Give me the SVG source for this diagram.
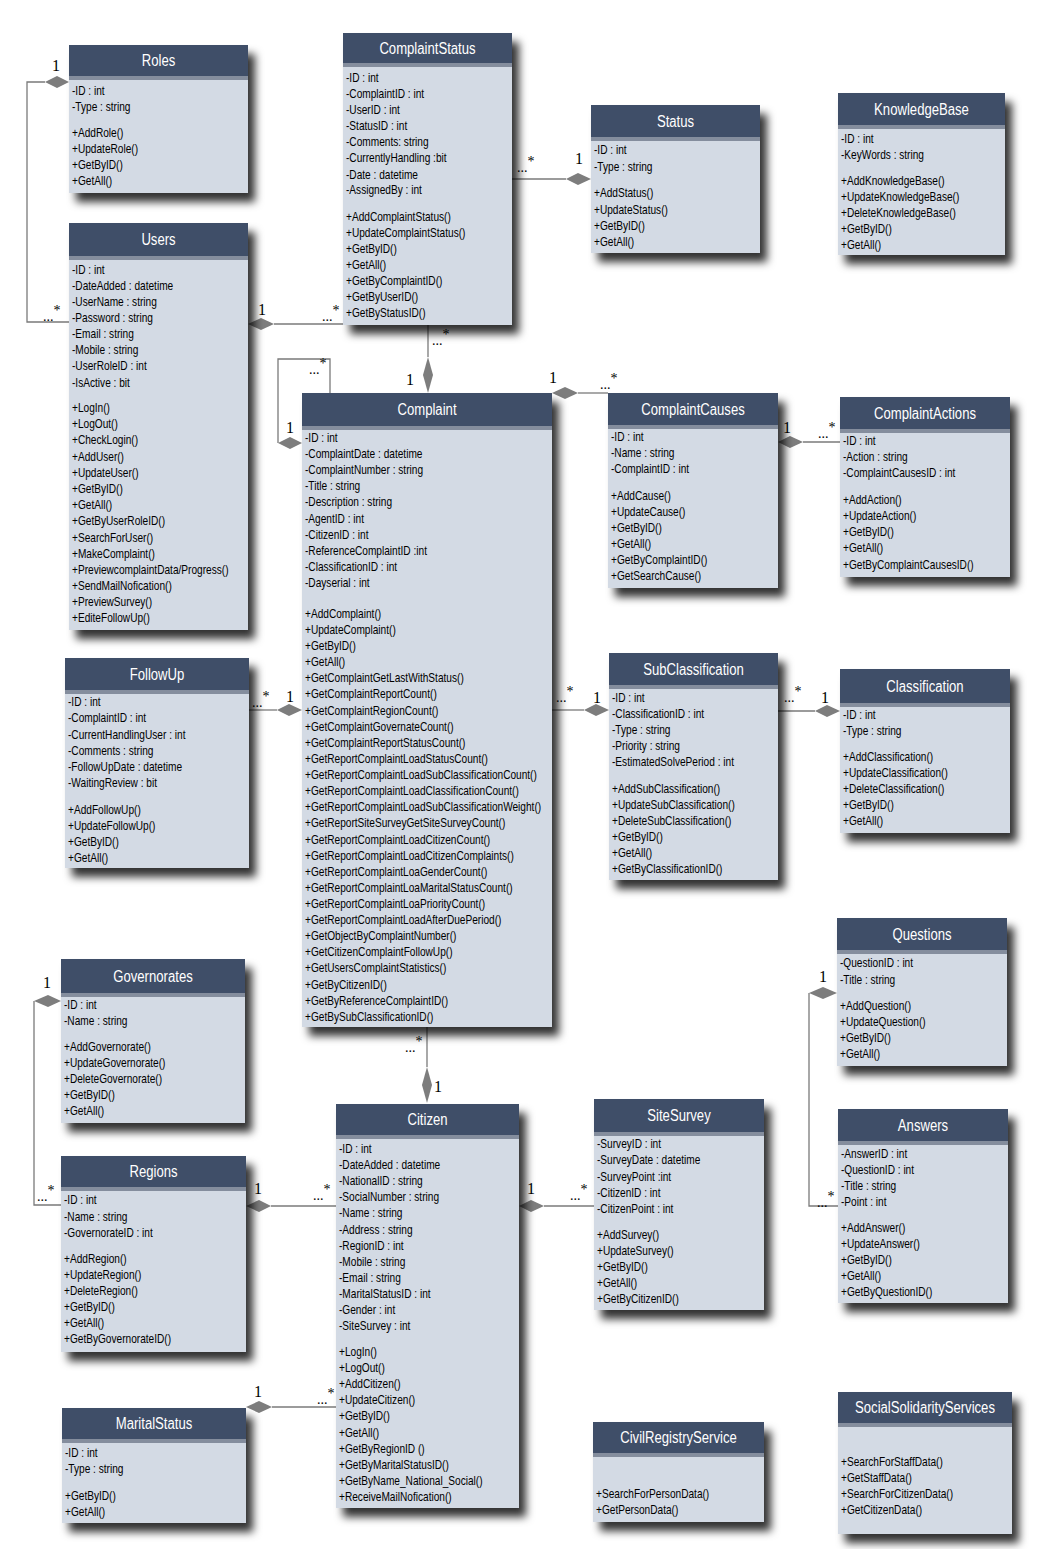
<svg xmlns="http://www.w3.org/2000/svg" width="1037" height="1549" viewBox="0 0 1037 1549">
<defs>
<filter id="sh" x="-10%" y="-10%" width="135%" height="135%">
<feDropShadow dx="7" dy="9" stdDeviation="4" flood-color="#000" flood-opacity="0.8"/>
</filter>
<style>
.bd{fill:#d3dae4}
.hdr{fill:#3f4e68}
.st{fill:#848d9d}
.t{font-family:"Liberation Sans",Arial,sans-serif;font-size:12.5px;fill:#000}
.ti{font-family:"Liberation Sans",Arial,sans-serif;font-size:16px;fill:#fff;text-anchor:middle}
.ln{stroke:#7a7a7a;stroke-width:1.3;fill:none}
.dm{fill:#7d7d7d}
.lb{font-family:"Liberation Serif","Times New Roman",serif;font-size:16px;fill:#000}
.ml{font-family:"Liberation Serif","Times New Roman",serif;font-size:14px;fill:#000}
</style>
</defs>
<rect width="1037" height="1549" fill="#fff"/>

<g id="connectors">
<!-- Roles - Users -->
<polyline class="ln" points="45,82 27,82 27,322 69,322"/>
<polygon class="dm" points="69,82 57,76 45,82 57,88"/>
<text class="lb" x="52" y="71">1</text>
<text class="ml" x="43" y="321">...<tspan dy="-6">*</tspan></text>
<!-- Users - ComplaintStatus -->
<line class="ln" x1="274" y1="324" x2="343" y2="324"/>
<polygon class="dm" points="248,324 261,318 274,324 261,330"/>
<text class="lb" x="258" y="315">1</text>
<text class="ml" x="322" y="321">...<tspan dy="-6">*</tspan></text>
<!-- ComplaintStatus - Status -->
<line class="ln" x1="512" y1="179" x2="566" y2="179"/>
<polygon class="dm" points="566,179 578,173 591,179 578,185"/>
<text class="ml" x="517" y="172">...<tspan dy="-6">*</tspan></text>
<text class="lb" x="575" y="164">1</text>
<!-- ComplaintStatus - Complaint -->
<line class="ln" x1="428" y1="325" x2="428" y2="357"/>
<polygon class="dm" points="428,357 433,375 428,393 423,375"/>
<text class="ml" x="432" y="345">...<tspan dy="-6">*</tspan></text>
<text class="lb" x="406" y="385">1</text>
<!-- Complaint self -->
<polyline class="ln" points="330,393 330,359 278,359 278,443"/>
<polygon class="dm" points="278,443 290,437 302,443 290,449"/>
<text class="ml" x="309" y="374">...<tspan dy="-6">*</tspan></text>
<text class="lb" x="286" y="433">1</text>
<!-- Complaint - ComplaintCauses -->
<line class="ln" x1="578" y1="393" x2="608" y2="393"/>
<polygon class="dm" points="552,393 565,387 578,393 565,399"/>
<text class="lb" x="549" y="383">1</text>
<text class="ml" x="600" y="389">...<tspan dy="-6">*</tspan></text>
<!-- ComplaintCauses - ComplaintActions -->
<line class="ln" x1="803" y1="442" x2="840" y2="442"/>
<polygon class="dm" points="778,442 790,436 803,442 790,448"/>
<text class="lb" x="783" y="433">1</text>
<text class="ml" x="818" y="438">...<tspan dy="-6">*</tspan></text>
<!-- FollowUp - Complaint -->
<line class="ln" x1="249" y1="710" x2="277" y2="710"/>
<polygon class="dm" points="277,710 289,704 302,710 289,716"/>
<text class="ml" x="252" y="707">...<tspan dy="-6">*</tspan></text>
<text class="lb" x="286" y="702">1</text>
<!-- Complaint - SubClassification -->
<line class="ln" x1="552" y1="710" x2="584" y2="710"/>
<polygon class="dm" points="584,710 596,704 609,710 596,716"/>
<text class="ml" x="556" y="702">...<tspan dy="-6">*</tspan></text>
<text class="lb" x="593" y="703">1</text>
<!-- SubClassification - Classification -->
<line class="ln" x1="778" y1="711" x2="815" y2="711"/>
<polygon class="dm" points="815,711 827,705 840,711 827,717"/>
<text class="ml" x="784" y="702">...<tspan dy="-6">*</tspan></text>
<text class="lb" x="821" y="703">1</text>
<!-- Complaint - Citizen -->
<line class="ln" x1="427" y1="1027" x2="427" y2="1067"/>
<polygon class="dm" points="427,1067 432,1085 427,1103 422,1085"/>
<text class="ml" x="405" y="1052">...<tspan dy="-6">*</tspan></text>
<text class="lb" x="434" y="1092">1</text>
<!-- Governorates - Regions -->
<polyline class="ln" points="34,1001 34,1205 61,1205"/>
<polygon class="dm" points="61,1001 48,995 34,1001 48,1007"/>
<text class="lb" x="43" y="988">1</text>
<text class="ml" x="37" y="1201">...<tspan dy="-6">*</tspan></text>
<!-- Regions - Citizen -->
<line class="ln" x1="271" y1="1206" x2="336" y2="1206"/>
<polygon class="dm" points="246,1206 259,1200 271,1206 259,1212"/>
<text class="lb" x="254" y="1194">1</text>
<text class="ml" x="313" y="1200">...<tspan dy="-6">*</tspan></text>
<!-- Citizen - SiteSurvey -->
<line class="ln" x1="544" y1="1206" x2="594" y2="1206"/>
<polygon class="dm" points="519,1206 531,1200 544,1206 531,1212"/>
<text class="lb" x="527" y="1194">1</text>
<text class="ml" x="570" y="1200">...<tspan dy="-6">*</tspan></text>
<!-- MaritalStatus - Citizen -->
<line class="ln" x1="272" y1="1407" x2="336" y2="1407"/>
<polygon class="dm" points="246,1407 259,1401 272,1407 259,1413"/>
<text class="lb" x="254" y="1397">1</text>
<text class="ml" x="317" y="1404">...<tspan dy="-6">*</tspan></text>
<!-- Questions - Answers -->
<polyline class="ln" points="809,993 809,1206 838,1206"/>
<polygon class="dm" points="837,993 823,987 809,993 823,999"/>
<text class="lb" x="819" y="982">1</text>
<text class="ml" x="817" y="1207">...<tspan dy="-6">*</tspan></text>
</g>

<g id="Roles">
<rect class="bd" x="69" y="45" width="179" height="148" filter="url(#sh)"/>
<rect class="hdr" x="69" y="45" width="179" height="31"/>
<rect class="st" x="69" y="76" width="179" height="4"/>
<g transform="translate(158.5 66) scale(0.82 1)"><text class="ti" x="0" y="0">Roles</text></g>
<g transform="translate(72 0) scale(0.81 1)"><text class="t">
<tspan x="0" y="95">-ID : int</tspan><tspan x="0" y="111">-Type : string</tspan>
<tspan x="0" y="137">+AddRole()</tspan><tspan x="0" y="153">+UpdateRole()</tspan><tspan x="0" y="169">+GetByID()</tspan><tspan x="0" y="185">+GetAll()</tspan>
</text></g>
</g>

<g id="Users">
<rect class="bd" x="69" y="223" width="179" height="407" filter="url(#sh)"/>
<rect class="hdr" x="69" y="223" width="179" height="33"/>
<rect class="st" x="69" y="256" width="179" height="4"/>
<g transform="translate(158.5 245) scale(0.82 1)"><text class="ti" x="0" y="0">Users</text></g>
<g transform="translate(72 0) scale(0.81 1)"><text class="t">
<tspan x="0" y="274">-ID : int</tspan><tspan x="0" y="290">-DateAdded : datetime</tspan><tspan x="0" y="306">-UserName : string</tspan><tspan x="0" y="322">-Password : string</tspan><tspan x="0" y="338">-Email : string</tspan><tspan x="0" y="354">-Mobile : string</tspan><tspan x="0" y="370">-UserRoleID : int</tspan><tspan x="0" y="387">-IsActive : bit</tspan>
<tspan x="0" y="412">+LogIn()</tspan><tspan x="0" y="428">+LogOut()</tspan><tspan x="0" y="444">+CheckLogin()</tspan><tspan x="0" y="461">+AddUser()</tspan><tspan x="0" y="477">+UpdateUser()</tspan><tspan x="0" y="493">+GetByID()</tspan><tspan x="0" y="509">+GetAll()</tspan><tspan x="0" y="525">+GetByUserRoleID()</tspan><tspan x="0" y="542">+SearchForUser()</tspan><tspan x="0" y="558">+MakeComplaint()</tspan><tspan x="0" y="574">+PreviewcomplaintData/Progress()</tspan><tspan x="0" y="590">+SendMailNofication()</tspan><tspan x="0" y="606">+PreviewSurvey()</tspan><tspan x="0" y="622">+EditeFollowUp()</tspan>
</text></g>
</g>

<g id="ComplaintStatus">
<rect class="bd" x="343" y="33" width="169" height="292" filter="url(#sh)"/>
<rect class="hdr" x="343" y="33" width="169" height="30"/>
<rect class="st" x="343" y="63" width="169" height="4"/>
<g transform="translate(427.5 54) scale(0.82 1)"><text class="ti" x="0" y="0">ComplaintStatus</text></g>
<g transform="translate(346 0) scale(0.81 1)"><text class="t">
<tspan x="0" y="82">-ID : int</tspan><tspan x="0" y="98">-ComplaintID : int</tspan><tspan x="0" y="114">-UserID : int</tspan><tspan x="0" y="130">-StatusID : int</tspan><tspan x="0" y="146">-Comments: string</tspan><tspan x="0" y="162">-CurrentlyHandling :bit</tspan><tspan x="0" y="179">-Date : datetime</tspan><tspan x="0" y="194">-AssignedBy : int</tspan>
<tspan x="0" y="221">+AddComplaintStatus()</tspan><tspan x="0" y="237">+UpdateComplaintStatus()</tspan><tspan x="0" y="253">+GetByID()</tspan><tspan x="0" y="269">+GetAll()</tspan><tspan x="0" y="285">+GetByComplaintID()</tspan><tspan x="0" y="301">+GetByUserID()</tspan><tspan x="0" y="317">+GetByStatusID()</tspan>
</text></g>
</g>

<g id="Status">
<rect class="bd" x="591" y="105" width="169" height="148" filter="url(#sh)"/>
<rect class="hdr" x="591" y="105" width="169" height="32"/>
<rect class="st" x="591" y="137" width="169" height="4"/>
<g transform="translate(675.5 127) scale(0.82 1)"><text class="ti" x="0" y="0">Status</text></g>
<g transform="translate(594 0) scale(0.81 1)"><text class="t">
<tspan x="0" y="154">-ID : int</tspan><tspan x="0" y="171">-Type : string</tspan>
<tspan x="0" y="197">+AddStatus()</tspan><tspan x="0" y="214">+UpdateStatus()</tspan><tspan x="0" y="230">+GetByID()</tspan><tspan x="0" y="246">+GetAll()</tspan>
</text></g>
</g>

<g id="KnowledgeBase">
<rect class="bd" x="838" y="93" width="167" height="162" filter="url(#sh)"/>
<rect class="hdr" x="838" y="93" width="167" height="32"/>
<rect class="st" x="838" y="125" width="167" height="4"/>
<g transform="translate(921.5 115) scale(0.82 1)"><text class="ti" x="0" y="0">KnowledgeBase</text></g>
<g transform="translate(841 0) scale(0.81 1)"><text class="t">
<tspan x="0" y="143">-ID : int</tspan><tspan x="0" y="159">-KeyWords : string</tspan>
<tspan x="0" y="185">+AddKnowledgeBase()</tspan><tspan x="0" y="201">+UpdateKnowledgeBase()</tspan><tspan x="0" y="217">+DeleteKnowledgeBase()</tspan><tspan x="0" y="233">+GetByID()</tspan><tspan x="0" y="249">+GetAll()</tspan>
</text></g>
</g>

<g id="Complaint">
<rect class="bd" x="302" y="393" width="250" height="634" filter="url(#sh)"/>
<rect class="hdr" x="302" y="393" width="250" height="33"/>
<rect class="st" x="302" y="426" width="250" height="4"/>
<g transform="translate(427 415) scale(0.82 1)"><text class="ti" x="0" y="0">Complaint</text></g>
<g transform="translate(305 0) scale(0.81 1)"><text class="t">
<tspan x="0" y="442">-ID : int</tspan><tspan x="0" y="458">-ComplaintDate : datetime</tspan><tspan x="0" y="474">-ComplaintNumber : string</tspan><tspan x="0" y="490">-Title : string</tspan><tspan x="0" y="506">-Description : string</tspan><tspan x="0" y="523">-AgentID : int</tspan><tspan x="0" y="539">-CitizenID : int</tspan><tspan x="0" y="555">-ReferenceComplaintID :int</tspan><tspan x="0" y="571">-ClassificationID : int</tspan><tspan x="0" y="587">-Dayserial : int</tspan>
<tspan x="0" y="618">+AddComplaint()</tspan><tspan x="0" y="634">+UpdateComplaint()</tspan><tspan x="0" y="650">+GetByID()</tspan><tspan x="0" y="666">+GetAll()</tspan><tspan x="0" y="682">+GetComplaintGetLastWithStatus()</tspan><tspan x="0" y="698">+GetComplaintReportCount()</tspan><tspan x="0" y="715">+GetComplaintRegionCount()</tspan><tspan x="0" y="731">+GetComplaintGovernateCount()</tspan><tspan x="0" y="747">+GetComplaintReportStatusCount()</tspan><tspan x="0" y="763">+GetReportComplaintLoadStatusCount()</tspan><tspan x="0" y="779">+GetReportComplaintLoadSubClassificationCount()</tspan><tspan x="0" y="795">+GetReportComplaintLoadClassificationCount()</tspan><tspan x="0" y="811">+GetReportComplaintLoadSubClassificationWeight()</tspan><tspan x="0" y="827">+GetReportSiteSurveyGetSiteSurveyCount()</tspan><tspan x="0" y="844">+GetReportComplaintLoadCitizenCount()</tspan><tspan x="0" y="860">+GetReportComplaintLoadCitizenComplaints()</tspan><tspan x="0" y="876">+GetReportComplaintLoaGenderCount()</tspan><tspan x="0" y="892">+GetReportComplaintLoaMaritalStatusCount()</tspan><tspan x="0" y="908">+GetReportComplaintLoaPriorityCount()</tspan><tspan x="0" y="924">+GetReportComplaintLoadAfterDuePeriod()</tspan><tspan x="0" y="940">+GetObjectByComplaintNumber()</tspan><tspan x="0" y="956">+GetCitizenComplaintFollowUp()</tspan><tspan x="0" y="972">+GetUsersComplaintStatistics()</tspan><tspan x="0" y="989">+GetByCitizenID()</tspan><tspan x="0" y="1005">+GetByReferenceComplaintID()</tspan><tspan x="0" y="1021">+GetBySubClassificationID()</tspan>
</text></g>
</g>

<g id="ComplaintCauses">
<rect class="bd" x="608" y="393" width="170" height="195" filter="url(#sh)"/>
<rect class="hdr" x="608" y="393" width="170" height="32"/>
<rect class="st" x="608" y="425" width="170" height="4"/>
<g transform="translate(693 415) scale(0.82 1)"><text class="ti" x="0" y="0">ComplaintCauses</text></g>
<g transform="translate(611 0) scale(0.81 1)"><text class="t">
<tspan x="0" y="441">-ID : int</tspan><tspan x="0" y="457">-Name : string</tspan><tspan x="0" y="473">-ComplaintID : int</tspan>
<tspan x="0" y="500">+AddCause()</tspan><tspan x="0" y="516">+UpdateCause()</tspan><tspan x="0" y="532">+GetByID()</tspan><tspan x="0" y="548">+GetAll()</tspan><tspan x="0" y="564">+GetByComplaintID()</tspan><tspan x="0" y="580">+GetSearchCause()</tspan>
</text></g>
</g>

<g id="ComplaintActions">
<rect class="bd" x="840" y="397" width="170" height="180" filter="url(#sh)"/>
<rect class="hdr" x="840" y="397" width="170" height="32"/>
<rect class="st" x="840" y="429" width="170" height="4"/>
<g transform="translate(925 419) scale(0.82 1)"><text class="ti" x="0" y="0">ComplaintActions</text></g>
<g transform="translate(843 0) scale(0.81 1)"><text class="t">
<tspan x="0" y="445">-ID : int</tspan><tspan x="0" y="461">-Action : string</tspan><tspan x="0" y="477">-ComplaintCausesID : int</tspan>
<tspan x="0" y="504">+AddAction()</tspan><tspan x="0" y="520">+UpdateAction()</tspan><tspan x="0" y="536">+GetByID()</tspan><tspan x="0" y="552">+GetAll()</tspan><tspan x="0" y="569">+GetByComplaintCausesID()</tspan>
</text></g>
</g>

<g id="FollowUp">
<rect class="bd" x="65" y="658" width="184" height="210" filter="url(#sh)"/>
<rect class="hdr" x="65" y="658" width="184" height="32"/>
<rect class="st" x="65" y="690" width="184" height="4"/>
<g transform="translate(157 680) scale(0.82 1)"><text class="ti" x="0" y="0">FollowUp</text></g>
<g transform="translate(68 0) scale(0.81 1)"><text class="t">
<tspan x="0" y="706">-ID : int</tspan><tspan x="0" y="722">-ComplaintID : int</tspan><tspan x="0" y="739">-CurrentHandlingUser : int</tspan><tspan x="0" y="755">-Comments : string</tspan><tspan x="0" y="771">-FollowUpDate : datetime</tspan><tspan x="0" y="787">-WaitingReview : bit</tspan>
<tspan x="0" y="814">+AddFollowUp()</tspan><tspan x="0" y="830">+UpdateFollowUp()</tspan><tspan x="0" y="846">+GetByID()</tspan><tspan x="0" y="862">+GetAll()</tspan>
</text></g>
</g>

<g id="SubClassification">
<rect class="bd" x="609" y="653" width="169" height="227" filter="url(#sh)"/>
<rect class="hdr" x="609" y="653" width="169" height="32"/>
<rect class="st" x="609" y="685" width="169" height="4"/>
<g transform="translate(693.5 675) scale(0.82 1)"><text class="ti" x="0" y="0">SubClassification</text></g>
<g transform="translate(612 0) scale(0.81 1)"><text class="t">
<tspan x="0" y="702">-ID : int</tspan><tspan x="0" y="718">-ClassificationID : int</tspan><tspan x="0" y="734">-Type : string</tspan><tspan x="0" y="750">-Priority : string</tspan><tspan x="0" y="766">-EstimatedSolvePeriod : int</tspan>
<tspan x="0" y="793">+AddSubClassification()</tspan><tspan x="0" y="809">+UpdateSubClassification()</tspan><tspan x="0" y="825">+DeleteSubClassification()</tspan><tspan x="0" y="841">+GetByID()</tspan><tspan x="0" y="857">+GetAll()</tspan><tspan x="0" y="873">+GetByClassificationID()</tspan>
</text></g>
</g>

<g id="Classification">
<rect class="bd" x="840" y="669" width="170" height="164" filter="url(#sh)"/>
<rect class="hdr" x="840" y="669" width="170" height="34"/>
<rect class="st" x="840" y="703" width="170" height="4"/>
<g transform="translate(925 692) scale(0.82 1)"><text class="ti" x="0" y="0">Classification</text></g>
<g transform="translate(843 0) scale(0.81 1)"><text class="t">
<tspan x="0" y="719">-ID : int</tspan><tspan x="0" y="735">-Type : string</tspan>
<tspan x="0" y="761">+AddClassification()</tspan><tspan x="0" y="777">+UpdateClassification()</tspan><tspan x="0" y="793">+DeleteClassification()</tspan><tspan x="0" y="809">+GetByID()</tspan><tspan x="0" y="825">+GetAll()</tspan>
</text></g>
</g>

<g id="Governorates">
<rect class="bd" x="61" y="959" width="184" height="164" filter="url(#sh)"/>
<rect class="hdr" x="61" y="959" width="184" height="34"/>
<rect class="st" x="61" y="993" width="184" height="4"/>
<g transform="translate(153 982) scale(0.82 1)"><text class="ti" x="0" y="0">Governorates</text></g>
<g transform="translate(64 0) scale(0.81 1)"><text class="t">
<tspan x="0" y="1009">-ID : int</tspan><tspan x="0" y="1025">-Name : string</tspan>
<tspan x="0" y="1051">+AddGovernorate()</tspan><tspan x="0" y="1067">+UpdateGovernorate()</tspan><tspan x="0" y="1083">+DeleteGovernorate()</tspan><tspan x="0" y="1099">+GetByID()</tspan><tspan x="0" y="1115">+GetAll()</tspan>
</text></g>
</g>

<g id="Questions">
<rect class="bd" x="837" y="918" width="170" height="148" filter="url(#sh)"/>
<rect class="hdr" x="837" y="918" width="170" height="32"/>
<rect class="st" x="837" y="950" width="170" height="4"/>
<g transform="translate(922 940) scale(0.82 1)"><text class="ti" x="0" y="0">Questions</text></g>
<g transform="translate(840 0) scale(0.81 1)"><text class="t">
<tspan x="0" y="967">-QuestionID : int</tspan><tspan x="0" y="984">-Title : string</tspan>
<tspan x="0" y="1010">+AddQuestion()</tspan><tspan x="0" y="1026">+UpdateQuestion()</tspan><tspan x="0" y="1042">+GetByID()</tspan><tspan x="0" y="1058">+GetAll()</tspan>
</text></g>
</g>

<g id="Answers">
<rect class="bd" x="838" y="1109" width="170" height="194" filter="url(#sh)"/>
<rect class="hdr" x="838" y="1109" width="170" height="32"/>
<rect class="st" x="838" y="1141" width="170" height="4"/>
<g transform="translate(923 1131) scale(0.82 1)"><text class="ti" x="0" y="0">Answers</text></g>
<g transform="translate(841 0) scale(0.81 1)"><text class="t">
<tspan x="0" y="1158">-AnswerID : int</tspan><tspan x="0" y="1174">-QuestionID : int</tspan><tspan x="0" y="1190">-Title : string</tspan><tspan x="0" y="1206">-Point : int</tspan>
<tspan x="0" y="1232">+AddAnswer()</tspan><tspan x="0" y="1248">+UpdateAnswer()</tspan><tspan x="0" y="1264">+GetByID()</tspan><tspan x="0" y="1280">+GetAll()</tspan><tspan x="0" y="1296">+GetByQuestionID()</tspan>
</text></g>
</g>

<g id="Citizen">
<rect class="bd" x="336" y="1104" width="183" height="404" filter="url(#sh)"/>
<rect class="hdr" x="336" y="1104" width="183" height="31"/>
<rect class="st" x="336" y="1135" width="183" height="4"/>
<g transform="translate(427.5 1125) scale(0.82 1)"><text class="ti" x="0" y="0">Citizen</text></g>
<g transform="translate(339 0) scale(0.81 1)"><text class="t">
<tspan x="0" y="1153">-ID : int</tspan><tspan x="0" y="1169">-DateAdded : datetime</tspan><tspan x="0" y="1185">-NationalID : string</tspan><tspan x="0" y="1201">-SocialNumber : string</tspan><tspan x="0" y="1217">-Name : string</tspan><tspan x="0" y="1234">-Address : string</tspan><tspan x="0" y="1250">-RegionID : int</tspan><tspan x="0" y="1266">-Mobile : string</tspan><tspan x="0" y="1282">-Email : string</tspan><tspan x="0" y="1298">-MaritalStatusID : int</tspan><tspan x="0" y="1314">-Gender : int</tspan><tspan x="0" y="1330">-SiteSurvey : int</tspan>
<tspan x="0" y="1356">+LogIn()</tspan><tspan x="0" y="1372">+LogOut()</tspan><tspan x="0" y="1388">+AddCitizen()</tspan><tspan x="0" y="1404">+UpdateCitizen()</tspan><tspan x="0" y="1420">+GetByID()</tspan><tspan x="0" y="1437">+GetAll()</tspan><tspan x="0" y="1453">+GetByRegionID ()</tspan><tspan x="0" y="1469">+GetByMaritalStatusID()</tspan><tspan x="0" y="1485">+GetByName_National_Social()</tspan><tspan x="0" y="1501">+ReceiveMailNofication()</tspan>
</text></g>
</g>

<g id="Regions">
<rect class="bd" x="61" y="1156" width="185" height="196" filter="url(#sh)"/>
<rect class="hdr" x="61" y="1156" width="185" height="31"/>
<rect class="st" x="61" y="1187" width="185" height="4"/>
<g transform="translate(153.5 1177) scale(0.82 1)"><text class="ti" x="0" y="0">Regions</text></g>
<g transform="translate(64 0) scale(0.81 1)"><text class="t">
<tspan x="0" y="1204">-ID : int</tspan><tspan x="0" y="1221">-Name : string</tspan><tspan x="0" y="1237">-GovernorateID : int</tspan>
<tspan x="0" y="1263">+AddRegion()</tspan><tspan x="0" y="1279">+UpdateRegion()</tspan><tspan x="0" y="1295">+DeleteRegion()</tspan><tspan x="0" y="1311">+GetByID()</tspan><tspan x="0" y="1327">+GetAll()</tspan><tspan x="0" y="1343">+GetByGovernorateID()</tspan>
</text></g>
</g>

<g id="SiteSurvey">
<rect class="bd" x="594" y="1099" width="170" height="211" filter="url(#sh)"/>
<rect class="hdr" x="594" y="1099" width="170" height="33"/>
<rect class="st" x="594" y="1132" width="170" height="4"/>
<g transform="translate(679 1121) scale(0.82 1)"><text class="ti" x="0" y="0">SiteSurvey</text></g>
<g transform="translate(597 0) scale(0.81 1)"><text class="t">
<tspan x="0" y="1148">-SurveyID : int</tspan><tspan x="0" y="1164">-SurveyDate : datetime</tspan><tspan x="0" y="1181">-SurveyPoint :int</tspan><tspan x="0" y="1197">-CitizenID : int</tspan><tspan x="0" y="1213">-CitizenPoint : int</tspan>
<tspan x="0" y="1239">+AddSurvey()</tspan><tspan x="0" y="1255">+UpdateSurvey()</tspan><tspan x="0" y="1271">+GetByID()</tspan><tspan x="0" y="1287">+GetAll()</tspan><tspan x="0" y="1303">+GetByCitizenID()</tspan>
</text></g>
</g>

<g id="MaritalStatus">
<rect class="bd" x="62" y="1408" width="184" height="115" filter="url(#sh)"/>
<rect class="hdr" x="62" y="1408" width="184" height="31"/>
<rect class="st" x="62" y="1439" width="184" height="4"/>
<g transform="translate(154 1429) scale(0.82 1)"><text class="ti" x="0" y="0">MaritalStatus</text></g>
<g transform="translate(65 0) scale(0.81 1)"><text class="t">
<tspan x="0" y="1457">-ID : int</tspan><tspan x="0" y="1473">-Type : string</tspan>
<tspan x="0" y="1500">+GetByID()</tspan><tspan x="0" y="1516">+GetAll()</tspan>
</text></g>
</g>

<g id="CivilRegistryService">
<rect class="bd" x="593" y="1422" width="171" height="100" filter="url(#sh)"/>
<rect class="hdr" x="593" y="1422" width="171" height="31"/>
<rect class="st" x="593" y="1453" width="171" height="4"/>
<g transform="translate(678.5 1443) scale(0.82 1)"><text class="ti" x="0" y="0">CivilRegistryService</text></g>
<g transform="translate(596 0) scale(0.81 1)"><text class="t">
<tspan x="0" y="1498">+SearchForPersonData()</tspan><tspan x="0" y="1514">+GetPersonData()</tspan>
</text></g>
</g>

<g id="SocialSolidarityServices">
<rect class="bd" x="838" y="1392" width="174" height="142" filter="url(#sh)"/>
<rect class="hdr" x="838" y="1392" width="174" height="31"/>
<rect class="st" x="838" y="1423" width="174" height="4"/>
<g transform="translate(925 1413) scale(0.82 1)"><text class="ti" x="0" y="0">SocialSolidarityServices</text></g>
<g transform="translate(841 0) scale(0.81 1)"><text class="t">
<tspan x="0" y="1466">+SearchForStaffData()</tspan><tspan x="0" y="1482">+GetStaffData()</tspan><tspan x="0" y="1498">+SearchForCitizenData()</tspan><tspan x="0" y="1514">+GetCitizenData()</tspan>
</text></g>
</g>
</svg>
